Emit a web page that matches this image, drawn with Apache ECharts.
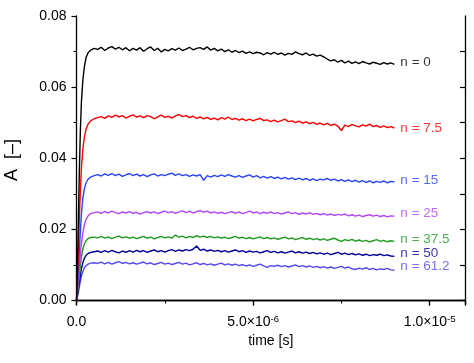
<!DOCTYPE html>
<html>
<head>
<meta charset="utf-8">
<script src="https://cdn.jsdelivr.net/npm/echarts@6/dist/echarts.min.js"></script>
<style>html,body{margin:0;padding:0;background:#fff}#c{width:474px;height:363px}</style>
</head>
<body>
<div id="c"></div>
<script>
// time in microseconds
const timeMicroseconds = [0,0.02,0.05,0.08,0.11,0.14,0.18,0.22,0.27,0.33,0.4,0.5,
0.6,0.7,0.8,0.9,1.0,1.1,1.2,1.3,1.4,1.5,
1.6,1.7,1.8,1.9,2.0,2.1,2.2,2.3,2.4,2.5,
2.6,2.7,2.8,2.9,3.0,3.1,3.2,3.3,3.4,3.5,
3.6,3.7,3.8,3.9,4.0,4.1,4.2,4.3,4.4,4.5,
4.6,4.7,4.8,4.9,5.0,5.1,5.2,5.3,5.4,5.5,
5.6,5.7,5.8,5.9,6.0,6.1,6.2,6.3,6.4,6.5,
6.6,6.7,6.8,6.9,7.0,7.1,7.2,7.3,7.4,7.5,
7.6,7.7,7.8,7.9,8.0,8.1,8.2,8.3,8.4,8.5,
8.6,8.7,8.8,8.9,9.0];

const seriesNames = ['n = 0','n = 7.5','n = 15','n = 25','n = 37.5','n = 50','n = 61.2'];
const seriesColors = ['#000000','#ff0000','#2a44f5','#b045f5','#1f9a1f','#00009a','#5648f2'];

const aN0 = [0,0.006,0.021,0.036,0.048,0.056,0.062,0.0655,0.0683,0.0697,0.0704,0.0709,
0.0706,0.0712,0.0703,0.0710,0.0714,0.0707,0.0712,0.0705,0.0711,0.0702,
0.0709,0.0704,0.0711,0.0701,0.0708,0.0713,0.0703,0.0709,0.0699,0.0706,
0.0702,0.0708,0.0704,0.0710,0.0703,0.0707,0.0712,0.0705,0.0709,0.0711,
0.0706,0.0713,0.0704,0.0709,0.0702,0.0707,0.0700,0.0705,0.0698,0.0703,
0.0697,0.0701,0.0695,0.0699,0.0694,0.0698,0.0696,0.0691,0.0697,0.0693,
0.0698,0.0692,0.0696,0.0690,0.0695,0.0692,0.0699,0.0694,0.0691,0.0696,
0.0689,0.0693,0.0687,0.0690,0.0685,0.0679,0.0674,0.0677,0.0670,0.0675,
0.0668,0.0673,0.0667,0.0671,0.0666,0.0672,0.0668,0.0665,0.0670,0.0667,
0.0664,0.0669,0.0665,0.0668,0.0664];

const aN7_5 = [0,0.004,0.013,0.023,0.031,0.0375,0.0425,0.0458,0.0482,0.0496,0.0505,0.0511,
0.0514,0.0517,0.0512,0.0519,0.0515,0.0521,0.0516,0.0520,0.0513,0.0518,
0.0522,0.0516,0.0519,0.0514,0.0520,0.0517,0.0511,0.0516,0.0521,0.0515,
0.0518,0.0513,0.0519,0.0523,0.0517,0.0520,0.0514,0.0518,0.0512,0.0516,
0.0511,0.0515,0.0509,0.0513,0.0508,0.0514,0.0510,0.0516,0.0509,0.0512,
0.0507,0.0511,0.0506,0.0510,0.0505,0.0509,0.0512,0.0506,0.0508,0.0503,
0.0507,0.0502,0.0506,0.0510,0.0503,0.0505,0.0500,0.0504,0.0499,0.0502,
0.0497,0.0501,0.0495,0.0499,0.0494,0.0498,0.0492,0.0496,0.0490,0.0478,
0.0493,0.0489,0.0495,0.0491,0.0488,0.0494,0.0490,0.0496,0.0489,0.0492,
0.0487,0.0491,0.0486,0.0489,0.0485];

const aN15 = [0,0.003,0.008,0.014,0.0195,0.0245,0.0287,0.0313,0.0331,0.0341,0.0347,0.0351,
0.0354,0.0350,0.0356,0.0352,0.0357,0.0351,0.0355,0.0349,0.0353,0.0357,
0.0351,0.0355,0.0350,0.0354,0.0348,0.0353,0.0356,0.0350,0.0354,0.0351,
0.0355,0.0358,0.0352,0.0356,0.0351,0.0354,0.0349,0.0353,0.0350,0.0354,
0.0338,0.0351,0.0347,0.0352,0.0348,0.0353,0.0349,0.0354,0.0350,0.0347,
0.0351,0.0346,0.0350,0.0353,0.0347,0.0351,0.0345,0.0349,0.0344,0.0348,
0.0343,0.0347,0.0342,0.0346,0.0341,0.0345,0.0340,0.0344,0.0339,0.0343,
0.0338,0.0342,0.0337,0.0341,0.0339,0.0343,0.0338,0.0341,0.0336,0.0340,
0.0335,0.0339,0.0334,0.0338,0.0333,0.0337,0.0332,0.0336,0.0331,0.0335,
0.0332,0.0336,0.0331,0.0335,0.0333];

const aN25 = [0,0.002,0.0055,0.0095,0.013,0.016,0.019,0.0212,0.0228,0.0238,0.0244,0.0247,
0.0249,0.0245,0.0250,0.0246,0.0251,0.0247,0.0244,0.0249,0.0246,0.0250,
0.0245,0.0248,0.0243,0.0247,0.0250,0.0246,0.0249,0.0244,0.0248,0.0251,
0.0247,0.0250,0.0245,0.0249,0.0252,0.0247,0.0251,0.0246,0.0250,0.0253,
0.0248,0.0251,0.0246,0.0249,0.0245,0.0248,0.0244,0.0247,0.0250,0.0245,
0.0249,0.0244,0.0247,0.0251,0.0246,0.0249,0.0244,0.0248,0.0245,0.0249,
0.0244,0.0247,0.0243,0.0246,0.0249,0.0244,0.0247,0.0242,0.0246,0.0243,
0.0247,0.0242,0.0245,0.0241,0.0244,0.0240,0.0243,0.0239,0.0242,0.0240,
0.0243,0.0238,0.0241,0.0237,0.0240,0.0236,0.0239,0.0241,0.0237,0.0240,
0.0236,0.0239,0.0235,0.0238,0.0237];

const aN37_5 = [0,0.0015,0.004,0.007,0.0098,0.0122,0.0144,0.0158,0.0168,0.0174,0.0177,0.0178,
0.0176,0.0180,0.0175,0.0179,0.0174,0.0178,0.0181,0.0176,0.0179,0.0175,
0.0178,0.0174,0.0177,0.0180,0.0175,0.0178,0.0173,0.0177,0.0180,0.0176,
0.0179,0.0175,0.0184,0.0178,0.0181,0.0176,0.0180,0.0177,0.0182,0.0178,
0.0181,0.0177,0.0180,0.0176,0.0179,0.0175,0.0178,0.0174,0.0177,0.0180,
0.0175,0.0178,0.0174,0.0177,0.0173,0.0176,0.0179,0.0174,0.0177,0.0173,
0.0176,0.0172,0.0175,0.0178,0.0173,0.0176,0.0171,0.0174,0.0177,0.0172,
0.0175,0.0171,0.0174,0.0170,0.0173,0.0169,0.0172,0.0175,0.0170,0.0166,
0.0171,0.0168,0.0172,0.0167,0.0170,0.0166,0.0169,0.0165,0.0168,0.0171,
0.0166,0.0169,0.0165,0.0168,0.0166];

const aN50 = [0,0.001,0.003,0.005,0.0071,0.0089,0.0106,0.0118,0.0127,0.0132,0.0135,0.0137,
0.0139,0.0135,0.0140,0.0136,0.0141,0.0137,0.0134,0.0139,0.0135,0.0140,
0.0136,0.0141,0.0137,0.0140,0.0135,0.0139,0.0142,0.0137,0.0140,0.0136,
0.0140,0.0143,0.0138,0.0142,0.0139,0.0143,0.0140,0.0144,0.0153,0.0141,
0.0144,0.0139,0.0142,0.0138,0.0141,0.0137,0.0140,0.0136,0.0139,0.0142,
0.0137,0.0140,0.0135,0.0139,0.0136,0.0138,0.0134,0.0137,0.0140,0.0135,
0.0138,0.0134,0.0137,0.0133,0.0136,0.0139,0.0134,0.0137,0.0133,0.0136,
0.0132,0.0135,0.0131,0.0134,0.0130,0.0133,0.0129,0.0132,0.0135,0.0130,
0.0133,0.0129,0.0132,0.0128,0.0131,0.0127,0.0130,0.0126,0.0129,0.0127,
0.0130,0.0126,0.0128,0.0125,0.0124];

const aN61_2 = [0,0.0008,0.002,0.0038,0.0054,0.0068,0.0081,0.0091,0.0098,0.0102,0.0105,0.0106,
0.0104,0.0108,0.0103,0.0107,0.0102,0.0106,0.0109,0.0104,0.0107,0.0103,
0.0106,0.0102,0.0105,0.0108,0.0103,0.0106,0.0101,0.0104,0.0107,0.0102,
0.0105,0.0101,0.0104,0.0107,0.0102,0.0105,0.0100,0.0103,0.0106,0.0101,
0.0104,0.0100,0.0103,0.0099,0.0102,0.0105,0.0100,0.0103,0.0099,0.0102,
0.0098,0.0101,0.0097,0.0100,0.0096,0.0099,0.0102,0.0097,0.0093,0.0098,
0.0096,0.0099,0.0095,0.0098,0.0094,0.0097,0.0100,0.0095,0.0098,0.0094,
0.0097,0.0093,0.0096,0.0092,0.0095,0.0091,0.0094,0.0090,0.0093,0.0096,
0.0091,0.0094,0.0089,0.0087,0.0091,0.0088,0.0092,0.0087,0.0090,0.0086,
0.0089,0.0087,0.0090,0.0086,0.0085];

const seriesValues = [aN0, aN7_5, aN15, aN25, aN37_5, aN50, aN61_2];

// label anchor positions (time in s, A)
const labelTime = 9.17e-6;
const labelA = [0.0670, 0.0485, 0.0339, 0.0246, 0.0173, 0.0133, 0.0096];

const yTickValues = [0, 0.02, 0.04, 0.06, 0.08];
const yMinorValues = [0.01, 0.03, 0.05, 0.07];
const yRightTicks = [0, 0.01, 0.02, 0.03, 0.04, 0.05, 0.06, 0.07];

const FONT = '"Liberation Sans", Arial, sans-serif';
const chart = echarts.init(document.getElementById('c'));

const lineSeries = seriesValues.map((vals, i) => ({
  type: 'line',
  name: seriesNames[i],
  xAxisIndex: 0, yAxisIndex: 0,
  showSymbol: false,
  symbol: 'none',
  lineStyle: { color: seriesColors[i], width: 1.4 },
  data: vals.map((v, k) => [timeMicroseconds[k] * 1e-6, v]),
  z: 10 - i
}));

const labelSeries = {
  type: 'scatter',
  xAxisIndex: 0, yAxisIndex: 0,
  symbolSize: 0,
  silent: true,
  data: labelA.map((a, i) => ({
    value: [labelTime, a],
    name: seriesNames[i],
    label: {
      show: true, position: 'right', distance: 0,
      formatter: seriesNames[i],
      color: seriesColors[i], fontSize: 13.5, fontFamily: FONT
    }
  }))
};

const yMin = -0.001, yMax = 0.08;
const xMin = 0, xMax = 1.1e-5;

chart.setOption({
  animation: false,
  grid: { left: 76.5, right: 9, top: 16, bottom: 59, containLabel: false, outerBoundsMode: 'none' },
  xAxis: [
    {
      type: 'value', position: 'bottom', min: xMin, max: xMax, interval: 5e-6,
      axisLine: { lineStyle: { color: '#000', width: 1.3 } },
      axisTick: { show: true, inside: false, length: 5, lineStyle: { color: '#000', width: 1.2 } },
      minorTick: { show: true, splitNumber: 2, length: 3, lineStyle: { color: '#000', width: 1 } },
      splitLine: { show: false },
      axisLabel: {
        margin: 10,
        formatter: function (v) {
          if (Math.abs(v) < 1e-12) return '{b|0.0}';
          const e = Math.floor(Math.log10(Math.abs(v)) + 1e-9);
          const m = v / Math.pow(10, e);
          return '{b|' + m.toFixed(1) + '×10}{s|' + e + '}';
        },
        rich: {
          b: { fontSize: 14, fontFamily: FONT, color: '#000', lineHeight: 17 },
          s: { fontSize: 9.5, fontFamily: FONT, color: '#000', lineHeight: 10, verticalAlign: 'top' }
        }
      },
      name: 'time [s]', nameLocation: 'middle', nameGap: 28,
      nameTextStyle: { fontSize: 14, fontFamily: FONT, color: '#000' }
    },
    {
      type: 'value', position: 'top', min: xMin, max: xMax, interval: 5e-6,
      axisLine: { show: true, lineStyle: { color: '#000', width: 1.3 } },
      axisTick: { show: true, inside: true, length: 5, lineStyle: { color: '#000', width: 1.2 } },
      axisLabel: { show: false },
      splitLine: { show: false }
    }
  ],
  yAxis: [
    {
      type: 'value', position: 'left', min: yMin, max: yMax,
      axisLine: { show: true, lineStyle: { color: '#000', width: 1.3 } },
      axisTick: { show: true, inside: false, length: 5, customValues: yTickValues, lineStyle: { color: '#000', width: 1.2 } },
      axisLabel: {
        customValues: yTickValues, margin: 10,
        formatter: v => v.toFixed(2),
        fontSize: 14, fontFamily: FONT, color: '#000'
      },
      splitLine: { show: false },
      name: 'A  [\u2013]', nameLocation: 'middle', nameGap: 55,
      nameTextStyle: { fontSize: 18, fontFamily: FONT, color: '#000' }
    },
    {
      type: 'value', position: 'left', min: yMin, max: yMax,
      axisLine: { show: false },
      axisTick: { show: true, inside: false, length: 3, customValues: yMinorValues, lineStyle: { color: '#000', width: 1 } },
      axisLabel: { show: false },
      splitLine: { show: false }
    },
    {
      type: 'value', position: 'right', min: yMin, max: yMax,
      axisLine: { show: true, lineStyle: { color: '#000', width: 1.3 } },
      axisTick: { show: true, inside: true, length: 5, customValues: yRightTicks, lineStyle: { color: '#000', width: 1.2 } },
      axisLabel: { show: false },
      splitLine: { show: false }
    }
  ],
  series: lineSeries.concat([labelSeries])
});
</script>
</body>
</html>
